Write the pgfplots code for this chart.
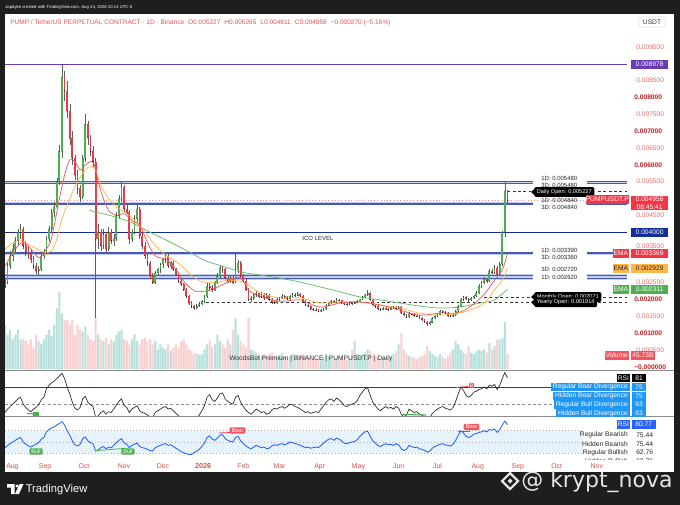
\documentclass[border=0pt]{standalone}
\usepackage{pgfplots}
\pgfplotsset{compat=1.18}
\usepackage{pgfplotstable}
\usepackage{fontspec}
\setmainfont{Liberation Sans}
\newfontfamily\wmfont{DejaVu Sans}

\definecolor{bgdark}{RGB}{30,30,30}
\definecolor{cgreen}{RGB}{76,175,80}
\definecolor{cred}{RGB}{242,54,69}
\definecolor{wick}{RGB}{95,95,95}
\definecolor{vgreen}{RGB}{183,225,221}
\definecolor{vred}{RGB}{250,208,208}
\definecolor{zone}{RGB}{70,90,180}
\definecolor{zonefill}{RGB}{196,206,238}
\definecolor{ico}{RGB}{20,45,150}
\definecolor{purp}{RGB}{103,58,183}
\definecolor{emared}{RGB}{242,90,90}
\definecolor{emaor}{RGB}{255,183,77}
\definecolor{emagr}{RGB}{102,187,106}
\definecolor{lblred}{RGB}{232,110,110}
\definecolor{lbldark}{RGB}{198,30,30}
\definecolor{rsiblue}{RGB}{41,98,255}
\definecolor{divblue}{RGB}{33,150,243}
\definecolor{bandblue}{RGB}{230,243,253}
\definecolor{monthred}{RGB}{214,80,80}
\definecolor{titlered}{RGB}{236,80,80}

\newcommand{\fs}{\fontsize{5}{6}\selectfont}
\newcommand{\fsz}{\fontsize{4.5}{5.4}\selectfont}

\pgfplotstableread{
d o h l c v r
-2 26 27.5 23 24 210 38
0 24 26 23.5 25 135 40
2 25 31 24.5 30 105 44
4 30 34.5 29 33 120 47
6 33 36.5 31.5 35 90 50
8 35 38.5 33.5 37.5 105 53
10 37.5 41 36 40 120 56
12 40 42.5 38 41 90 58
14 41 41.5 35 36 90 50
16 36 37.5 33 34 85 46
18 34 36 32 33.5 75 43
20 33.5 35 31 32 90 41
22 32 33 29 30 65 44
24 30 31 27.5 28.5 105 46
26 28.5 30 27 29 85 49
28 29 34 28.5 33 75 55
30 33 35 32 34 90 58
32 34 39 33.5 38 105 68
34 38 42 37 41 120 72
36 41 47 40 46 100 75
38 46 49 44.5 47.5 135 77
40 47.5 56 47 55 185 80
42 55 66 54 64 235 83
44 64 89.78 62 86 170 86
46 86 88 79 82 150 80
48 82 85 74 76 150 70
50 76 78 66 68 135 62
52 68 70 60 62 150 52
54 62 63 55.5 57 105 45
56 57 58.5 51.5 53 135 43
58 53 54 49 50.5 120 46
60 50.5 63 50 62 115 56
62 62 75 61 72 130 59
64 72 73 66 68 105 52
66 68 69 62.5 64 90 49
68 64 65.5 59.5 61 85 47
70 61 62 14.6 38 160 34
72 38 42.5 35 40 105 36
74 40 41 34.5 36 90 40
76 36 41 35 39.5 85 42
78 39.5 40 33.5 35 95 38
80 35 41.5 34.5 40 75 41
82 40 41 36.5 37.5 90 40
84 37.5 39.5 36 38 85 44
86 38 46 37.5 45 105 49
88 45 51 44 50 115 53
90 50 55 49 53.5 120 56
92 53.5 54 46 47 90 48
94 47 48.5 45 46 85 46
96 46 46.5 36.5 38 75 40
98 38 41 37 40 90 44
100 40 45 39.5 44 105 46
102 44 48.7 43 47 85 48
104 47 47.5 38 39 75 42
106 39 40 35 36 90 40
108 36 37 32 33 95 39
110 33 34 30 31 85 37
112 31 31.5 26 27 90 35
114 27 28 24.5 25 75 34
116 25 28.5 24.5 28 85 40
118 28 29.5 27 29 60 42
120 29 31 28 30.5 75 44
122 30.5 32.5 29.5 32 65 46
124 32 34 31 33 60 47
126 33 33.5 29.5 30 75 44
128 30 31.5 29 31 55 45
130 31 31.5 28.5 29 65 42
132 29 29.5 27 27.5 75 39
134 27.5 28 25 25.5 65 36
136 25.5 26 24 24.5 85 33
138 24.5 25 22.5 23 90 31
140 23 23.5 20.5 21 75 29
142 21 21.5 18.5 19 60 28
144 19 19.5 17.5 18 55 28
146 18 18.5 17 17.5 45 31
148 17.5 18.8 17.2 18.2 48 34
150 18.2 19.3 17.8 18.8 42 37
152 18.8 20 18.3 19.5 45 42
154 19.5 21.5 19 21 60 48
156 21 24.8 20.5 24 75 58
158 24 25 22.5 23.5 90 61
160 23.5 24.2 22.3 23 66 55
162 23 25.5 22.5 25 75 53
164 25 27.8 24.5 27 105 57
166 27 30.3 26.5 29.5 85 62
168 29.5 30 28 29 75 63
170 29 29.5 26 26.5 65 56
172 26.5 27 25 25.5 90 53
174 25.5 27.2 25 26.5 75 51
176 26.5 27 24.5 25 120 50
178 25 33.5 24.8 29 155 58
180 29 31.8 28 31 105 60
182 31 31.5 26.5 27 85 52
184 27 27.5 25 25.5 75 47
186 25.5 26 22.5 23 66 43
188 23 23.5 19.5 20 155 40
190 20 21 19.3 20.5 60 38
192 20.5 22 20 21.5 55 41
194 21.5 22.6 20.8 22 50 44
196 22 22.4 20.5 21 45 42
198 21 22.2 20.6 21.5 40 40
200 21.5 21.9 20 20.5 42 41
202 20.5 22 20.2 21.5 38 38
204 21.5 21.8 19.7 20 45 39
206 20 20.4 18.8 19.2 50 43
208 19.2 19.6 18.6 19 40 45
210 19 20.4 18.8 20 36 44
212 20 20.9 19.7 20.5 42 46
214 20.5 21.6 20.2 21.2 48 47
216 21.2 21.5 20.4 20.8 36 45
218 20.8 21.1 20 20.3 33 47
220 20.3 21.4 20 21 40 50
222 21 22 20.7 21.5 45 49
224 21.5 21.9 20.9 21.2 38 47
226 21.2 22.3 21 21.8 42 46
228 21.8 22 20.7 21 36 44
230 21 21.3 19.2 19.5 45 42
232 19.5 19.8 18.2 18.5 40 40
234 18.5 18.9 17.7 18 36 41
236 18 18.3 16.9 17.2 33 39
238 17.2 17.6 16.7 17 30 40
240 17 17.5 16.5 16.8 28 41
242 16.8 17.1 16.2 16.5 33 40
244 16.5 17.1 16.3 16.8 30 44
246 16.8 17.6 16.6 17.2 36 48
248 17.2 18.6 17 18.2 45 52
250 18.2 19.4 18 19 40 55
252 19 19.9 18.7 19.5 36 56
254 19.5 19.8 18.9 19.2 30 53
256 19.2 20.4 19 20 33 57
258 20 20.3 19.5 19.8 28 55
260 19.8 20 18.7 19 36 52
262 19 19.3 18.3 18.6 30 48
264 18.6 19 18.2 18.5 27 47
266 18.5 19.3 18.3 19 33 49
268 19 19.3 18.5 18.8 60 50
270 18.8 19.5 18.6 19.2 85 51
272 19.2 19.8 19 19.5 45 54
274 19.5 20.3 19.3 20 40 60
276 20 21.1 19.8 20.8 45 64
278 20.8 21.8 20.5 21.5 50 68
280 21.5 22.8 21.2 22 60 69
282 22 22.3 19.6 20 55 60
284 20 20.3 18.2 18.5 45 52
286 18.5 18.8 17.6 18 40 48
288 18 18.3 16.9 17.2 36 44
290 17.2 17.5 16.7 17 30 42
292 17 17.9 16.8 17.5 33 45
294 17.5 17.8 16.9 17.2 36 47
296 17.2 17.5 16.7 17 30 45
298 17 17.9 16.8 17.5 40 46
300 17.5 18.2 17.2 17.8 45 44
302 17.8 18 17 17.3 55 47
304 17.3 18.2 17.1 17.8 75 45
306 17.8 18 15.6 16 110 38
308 16 16.4 15.2 15.5 60 35
310 15.5 15.8 14.5 14.8 45 37
312 14.8 16.2 14.6 15.8 40 44
314 15.8 16.1 15.3 15.6 36 42
316 15.6 15.9 14.9 15.2 33 40
318 15.2 15.5 14.7 15 30 41
320 15 15.3 14.3 14.6 36 38
322 14.6 14.9 13.7 14 40 37
324 14 14.3 13.2 13.5 45 35
326 13.5 13.8 12.3 12.8 70 32
328 12.8 13.6 12.5 13.2 55 34
330 13.2 14.8 13 14.5 45 39
332 14.5 15.3 14.2 15 40 42
334 15 15.8 14.7 15.5 36 44
336 15.5 16.9 15.3 16.5 45 46
338 16.5 16.8 15.9 16.2 36 47
340 16.2 16.5 15.7 16 30 45
342 16 16.3 14.9 15.2 40 44
344 15.2 15.5 14.7 15 50 43
346 15 15.7 14.8 15.3 60 46
348 15.3 16.9 15.1 16.5 85 53
350 16.5 18.4 16.2 18 75 62
352 18 20.5 17.7 20 60 70
354 20 21.2 19.6 20.8 50 66
356 20.8 21.1 19.8 20.2 45 60
358 20.2 20.5 19.4 19.8 70 58
360 19.8 20.9 19.5 20.5 50 60
362 20.5 21.4 20.2 21 45 64
364 21 22.5 20.7 22 55 65
366 22 24.5 21.7 24 60 67
368 24 25.5 23.5 25 55 68
370 25 26.6 24.6 26 60 70
372 26 26.5 24.9 25.5 50 68
374 25.5 29 25.2 28.5 80 72
376 28.5 29.2 27.5 28 60 71
378 28 30.2 27.7 29.5 70 73
380 29.5 29.9 27 27.5 90 67
382 27.5 31.2 27.2 30.5 90 72
384 30.5 40.5 30 40 95 80
386 40 54.8 38.5 52.3 143 87
388 52.27 52.65 48.11 49.58 45.73 80.77
}\candles

\pgfplotstableread{
d e
0 30
8 35
14 37
20 35
26 32.5
30 34
35 37
38 42
42 50
46 57
50 61.5
54 61
58 58.5
62 60
66 61
69 60
72 55
76 50
80 46.5
86 45
92 45.5
98 43.5
104 42
110 37
116 33
124 32
131 29.5
139 25
147 22.5
154 22.5
160 23
171 25
181 26.7
189 22.5
197 21
212 19.5
228 19.9
243 17.8
259 19
274 19.3
290 18.4
305 16.9
320 15.4
336 16
348 16
355 16.9
363 19
371 22
378 25.8
384 28.8
388 33.69
}\emaR

\pgfplotstableread{
d e
0 35
10 37.5
20 36
30 34
36 34.5
40 38
44 44
50 50
56 55
62 58.5
66 59.5
70 58.5
74 54
80 50
88 47
96 45
104 42
112 38
120 34.5
127 32.5
135 30.5
143 27.5
151 25.5
158 25
166 25.3
174 25.8
185 25
197 22
212 20.5
228 20.5
243 19
259 19.3
274 19.3
290 18.4
305 17.5
320 16
336 15.4
351 16
363 17.5
371 19.3
378 22.9
384 25.8
388 29.29
}\emaO

\pgfplotstableread{
d e
65 46.6
73 45.7
81 45
97 43
112 40
128 37
143 34
155 31.5
170 29.7
182 28.2
197 27.3
212 26.4
228 25.2
243 23.8
259 22.3
274 20.8
290 19.9
305 19
320 18.1
336 17.5
351 17.8
367 19
378 19.9
388 23.11
}\emaG

\pgfplotsset{base/.style={width=466.5pt, scale only axis, xmin=0, xmax=480.3, hide axis, clip=true, anchor=south west}}

\newcommand{\zseg}[6]{% x1 x2 fill-low fill-high line1 line2
  \fill[zonefill] (axis cs:#1,#3) rectangle (axis cs:#2,#4);
  \draw[zone, line width=0.55pt] (axis cs:#1,#5) -- (axis cs:#2,#5);
  \draw[zone, line width=0.55pt] (axis cs:#1,#6) -- (axis cs:#2,#6);}

\begin{document}
\begin{tikzpicture}
\begin{scope}[x=0.75pt,y=-0.75pt]
\useasboundingbox (0,0) rectangle (680,505);
\fill[bgdark] (0,0) rectangle (680,505);
\fill[white] (5,14.5) rectangle (674,472);
\end{scope}

% ---------- volume ----------
\begin{axis}[base, at={(3.75pt,-276.75pt)}, height=75pt, ymin=0, ymax=305]
\addplot[ybar, bar width=1.6, bar shift=0pt, fill=vgreen, draw=none]
  table[x=d, y expr={\thisrow{c}<\thisrow{o} ? nan : \thisrow{v}}]{\candles};
\addplot[ybar, bar width=1.6, bar shift=0pt, fill=vred, draw=none]
  table[x=d, y expr={\thisrow{c}<\thisrow{o} ? \thisrow{v} : nan}]{\candles};
\end{axis}

% ---------- price ----------
\begin{axis}[base, at={(3.75pt,-277.5pt)}, height=266.25pt, ymin=-0.89, ymax=104.5]
% zones
\zseg{0}{407.7}{54.35}{55.25}{54.55}{55.05}
\zseg{449.4}{480.3}{54.35}{55.25}{54.55}{55.05}
\zseg{0}{407.7}{47.95}{48.85}{48.15}{48.65}
\zseg{449.4}{480.3}{47.95}{48.85}{48.15}{48.65}
\zseg{0}{407.7}{33.3}{34.2}{33.6}{33.9}
\zseg{449.4}{480.3}{33.3}{34.2}{33.6}{33.9}
\zseg{0}{407.7}{25.9}{27.5}{26.2}{27.2}
\zseg{449.4}{480.3}{25.9}{27.5}{26.2}{27.2}
\draw[purp, line width=0.8pt] (axis cs:0,89.78) -- (axis cs:480.3,89.78);
\draw[ico, line width=0.8pt] (axis cs:0,40) -- (axis cs:480.3,40);
\draw[cred!60, dotted, line width=0.45pt] (axis cs:0,49.58) -- (axis cs:480.3,49.58);
% opens
\draw[black!80, dash pattern=on 2.2pt off 1.8pt, line width=0.45pt] (axis cs:388,52.27) -- (axis cs:406,52.27) (axis cs:458,52.27) -- (axis cs:480.3,52.27);
\draw[black!80, dash pattern=on 2.2pt off 1.8pt, line width=0.45pt] (axis cs:370,20.71) -- (axis cs:406,20.71) (axis cs:458,20.71) -- (axis cs:480.3,20.71);
\draw[black!80, dash pattern=on 2.2pt off 1.8pt, line width=0.45pt] (axis cs:151,19.14) -- (axis cs:406,19.14) (axis cs:458,19.14) -- (axis cs:480.3,19.14);
% candles: wicks
\addplot[only marks, mark=*, mark size=0.01pt, mark options={draw=none,fill=none},
  error bars/.cd, y dir=both, y explicit, error mark=none,
  error bar style={draw=wick, line width=0.35pt}]
  table[x=d, y=c, y error plus expr={\thisrow{h}-\thisrow{c}}, y error minus expr={\thisrow{c}-\thisrow{l}}]{\candles};
% bodies
\addplot[only marks, mark=*, mark size=0.01pt, mark options={draw=none,fill=none},
  error bars/.cd, y dir=plus, y explicit, error mark=none,
  error bar style={draw=cgreen, line width=1.35pt}]
  table[x=d, y expr={\thisrow{c}<\thisrow{o} ? nan : \thisrow{o}}, y error plus expr={\thisrow{c}-\thisrow{o}}]{\candles};
\addplot[only marks, mark=*, mark size=0.01pt, mark options={draw=none,fill=none},
  error bars/.cd, y dir=plus, y explicit, error mark=none,
  error bar style={draw=cred, line width=1.35pt}]
  table[x=d, y expr={\thisrow{c}<\thisrow{o} ? \thisrow{c} : nan}, y error plus expr={\thisrow{o}-\thisrow{c}}]{\candles};
% EMAs
\addplot[emagr, line width=0.55pt, smooth, mark=none] table[x=d,y=e]{\emaG};
\addplot[emaor, line width=0.55pt, smooth, mark=none] table[x=d,y=e]{\emaO};
\addplot[emared, line width=0.55pt, smooth, mark=none] table[x=d,y=e]{\emaR};
\end{axis}

% ---------- RSI 1 ----------
\begin{axis}[base, at={(3.75pt,-312pt)}, height=33.75pt, ymin=35.9, ymax=88.8]
\draw[black!75, line width=0.5pt] (axis cs:0,70) -- (axis cs:423,70);
\draw[black!45, dash pattern=on 2.2pt off 1.8pt, line width=0.4pt] (axis cs:0,50) -- (axis cs:423,50);
\addplot[black!85, line width=0.5pt, mark=none] table[x=d,y=r]{\candles};
\end{axis}

% ---------- RSI 2 ----------
\begin{axis}[base, at={(3.75pt,-344.25pt)}, height=32.25pt, ymin=19.9, ymax=96]
\fill[bandblue] (axis cs:0,30) rectangle (axis cs:446,70);
\draw[black!30, dotted, line width=0.4pt] (axis cs:0,70) -- (axis cs:446,70);
\draw[black!30, dotted, line width=0.4pt] (axis cs:0,50) -- (axis cs:446,50);
\draw[black!30, dotted, line width=0.4pt] (axis cs:0,30) -- (axis cs:446,30);
\addplot[rsiblue, line width=0.65pt, mark=none] table[x=d,y=r]{\candles};
\end{axis}

% ---------- overlays ----------
\begin{scope}[x=0.75pt,y=-0.75pt]
% pane separators
\draw[black!45, line width=0.9pt] (5,370.3) -- (674,370.3);
\draw[black!45, line width=0.9pt] (5,416.5) -- (674,416.5);

% header
\node[anchor=west, text=white, font=\fontsize{3.2}{4}\selectfont, inner sep=0pt] at (5,7.5) {zopdyke created with TradingView.com, Aug 24, 2026 10:14 UTC-5};
\node[anchor=west, text=titlered, font=\fontsize{4.9}{6}\selectfont, inner sep=0pt] at (10,22.5)
 {PUMP / TetherUS PERPETUAL CONTRACT · 1D · Binance\hspace{3pt}O0.005227\hspace{3pt}H0.005265\hspace{3pt}L0.004811\hspace{3pt}C0.004958\hspace{3pt}−0.000270 (−5.16\%)};
\node[draw=black!15, fill=white, rounded corners=1pt, text=black!80, font=\fs, inner xsep=3pt, inner ysep=2pt] at (652,22) {USDT};

% price scale labels
\foreach \yy/\tt in {47/0.009500, 80.7/0.008500, 114.4/0.007500, 148.1/0.006500, 181.7/0.005500, 215.4/0.004500, 246.6/0.003500, 282.3/0.002500, 316.5/0.001500, 350.2/0.000500}
  \node[anchor=west, text=lblred, font=\fs, inner sep=0pt] at (636,\yy) {\tt};
\foreach \yy/\tt in {97.5/0.008000, 131.2/0.007000, 164.9/0.006000, 299.6/0.002000, 333.3/0.001000, 367/−0.000000}
  \node[anchor=west, text=lbldark, font=\fs\bfseries, inner sep=0pt] at (634,\yy) {\tt};

% zone labels
\foreach \yy/\tt in {178/1D: 0.005480, 185.7/3D: 0.005480, 200/1D: 0.004840, 207.7/3D: 0.004840, 250/1D: 0.003390, 257.7/3D: 0.003360, 269.3/3D: 0.002720, 277.3/1D: 0.002620}
  \node[anchor=west, text=black!85, font=\fsz, inner sep=0pt] at (541,\yy) {\tt};
\node[text=black!85, font=\fsz, inner sep=0pt] at (318,238) {ICO LEVEL};

% black open labels
\foreach \yy/\tt in {192/Daily Open: 0.005227, 297/Monthly Open: 0.002071, 302.3/Yearly Open: 0.001914}{
  \fill[black] (531,\yy) -- (535,\yy-3.6) -- (535,\yy+3.6) -- cycle;
  \node[fill=black, text=white, rounded corners=1pt, font=\fontsize{4.2}{5}\selectfont, inner xsep=2pt, inner ysep=0pt, minimum height=7.2pt, anchor=west] at (534,\yy) {\tt};}

% value boxes
\node[fill=purp, text=white, font=\fs, inner sep=0pt, minimum height=6.75pt, minimum width=27.5pt, anchor=west] at (631,64.6) {0.008978};
\node[fill=cred, text=white, font=\fs, inner sep=0pt, minimum height=6.6pt, minimum width=31pt, anchor=east] at (629,199.5) {PUMPUSDT.P};
\node[fill=cred, text=white, font=\fs, inner sep=1pt, minimum width=27.5pt, anchor=west, align=center] at (631,203) {0.004958\\[-0.3pt]08:45:41};
\node[fill=ico, text=white, font=\fs, inner sep=0pt, minimum height=6.75pt, minimum width=27.5pt, anchor=west] at (631,232.3) {0.004000};
\node[fill=cred, text=white, font=\fs, inner sep=0pt, minimum height=6.9pt, minimum width=12.5pt, anchor=east] at (629.5,253.7) {EMA};
\node[fill=cred, text=white, font=\fs, inner sep=0pt, minimum height=6.9pt, minimum width=27.5pt, anchor=west] at (631,253.7) {0.003369};
\node[fill=emaor, text=black!85, font=\fs, inner sep=0pt, minimum height=6.9pt, minimum width=12.5pt, anchor=east] at (629.5,268.5) {EMA};
\node[fill=emaor, text=black!85, font=\fs, inner sep=0pt, minimum height=6.9pt, minimum width=27.5pt, anchor=west] at (631,268.5) {0.002929};
\node[fill=cgreen, text=white, font=\fs, inner sep=0pt, minimum height=6.9pt, minimum width=12.5pt, anchor=east] at (629.5,289.2) {EMA};
\node[fill=cgreen, text=white, font=\fs, inner sep=0pt, minimum height=6.9pt, minimum width=27.5pt, anchor=west] at (631,289.2) {0.002311};
\node[fill=cred!85, text=white, font=\fs, inner sep=0pt, minimum height=6.6pt, minimum width=18pt, anchor=east] at (629,355.5) {Volume};
\node[fill=cred!85, text=white, font=\fs, inner sep=0pt, minimum height=6.6pt, minimum width=17.5pt, anchor=west] at (631,355.5) {45.73B};

\node[anchor=west, text=black!80, font=\fontsize{5}{6}\selectfont, inner sep=0pt] at (229,359) {WoodsBot Premium | BINANCE | PUMPUSDT.P | Daily};

% RSI 1 labels / marks
\begin{scope}
\clip (5,371) rectangle (674,416);
\node[fill=black, text=white, font=\fs, inner sep=0pt, minimum height=6.3pt, minimum width=9.5pt, anchor=east] at (630,378) {RSI};
\node[fill=black, text=white, font=\fs, inner sep=0pt, minimum height=6.3pt, minimum width=11pt, anchor=west] at (631.5,378) {81};
\foreach \yy/\tt/\vv in {387/Regular Bear Divergence/75, 395.8/Hidden Bear Divergence/75, 404.6/Regular Bull Divergence/63, 413.4/Hidden Bull Divergence/63}{
  \node[fill=divblue, text=white, font=\fs, inner xsep=1.5pt, inner ysep=0pt, minimum height=6.4pt, anchor=east] at (630,\yy) {\tt};
  \node[fill=divblue, text=white, font=\fs, inner sep=0pt, minimum height=6.4pt, minimum width=11pt, anchor=west] at (631.5,\yy) {\vv};}
\draw[cgreen, line width=0.8pt] (27,413.5) -- (38,414);
\fill[cgreen] (33,412.2) rectangle (38.5,416);
\draw[cgreen, line width=0.8pt] (403,414.5) -- (426,415);
\draw[cred, line width=0.6pt] (456,387.5) -- (468,386.5);
\node[fill=cred!85, text=white, font=\fontsize{3.8}{4.5}\selectfont, inner sep=0.6pt, rounded corners=0.5pt] at (471.5,385.5) {B};
\end{scope}

% RSI 2 labels / marks
\begin{scope}
\clip (5,417) rectangle (674,459);
\node[fill=rsiblue, text=white, font=\fs, inner sep=0pt, minimum height=6.3pt, minimum width=9.5pt, anchor=east] at (630,424.3) {RSI};
\node[fill=rsiblue, text=white, font=\fs, inner sep=0pt, minimum height=6.3pt, minimum width=18pt, anchor=west] at (631.5,424.3) {80.77};
\foreach \yy/\tt/\vv in {435.2/Regular Bearish/75.44, 443.8/Hidden Bearish/75.44, 452.5/Regular Bullish/62.76, 461/Hidden Bullish/62.76}{
  \node[anchor=east, text=black!85, font=\fs, inner sep=0pt] at (628,\yy) {\tt};
  \node[anchor=west, text=black!85, font=\fs, inner sep=0pt] at (636,\yy) {\vv};}
\draw[cgreen, line width=0.6pt] (95,450.7) -- (126,448.3);
\node[fill=cgreen, text=white, font=\fontsize{4.2}{5}\selectfont, inner xsep=1.5pt, inner ysep=0.8pt, rounded corners=0.8pt] at (36,451.5) {Bull};
\node[fill=cgreen, text=white, font=\fontsize{4.2}{5}\selectfont, inner xsep=1.5pt, inner ysep=0.8pt, rounded corners=0.8pt] at (128,451.5) {Bull};
\draw[cred, line width=0.6pt] (219,433) -- (231,432.5);
\draw[cred, line width=0.6pt] (458,431.5) -- (470,431.5);
\node[fill=cred!85, text=white, font=\fontsize{4.2}{5}\selectfont, inner xsep=1.5pt, inner ysep=0.8pt, rounded corners=0.8pt] at (237.5,430.5) {Bear};
\node[fill=cred!85, text=white, font=\fontsize{4.2}{5}\selectfont, inner xsep=1.5pt, inner ysep=0.8pt, rounded corners=0.8pt] at (471.5,427) {Bear};
\end{scope}

% month labels
\foreach \xx/\tt in {45.1/Sep, 84/Oct, 124.1/Nov, 163/Dec, 243.3/Feb, 279.5/Mar, 319.7/Apr, 358.5/May, 398.7/Jun, 437.5/Jul, 477.7/Aug, 517.8/Sep, 556.7/Oct, 596.8/Nov}
  \node[text=monthred, font=\fontsize{5.2}{6}\selectfont, inner sep=0pt] at (\xx,466.5) {\tt};
\node[anchor=west, text=monthred, font=\fontsize{5.2}{6}\selectfont, inner sep=0pt] at (6,466.5) {Aug};
\node[text=monthred, font=\fontsize{5.4}{6}\selectfont\bfseries, inner sep=0pt] at (203.1,466.5) {2026};

% footer: TradingView logo
\fill[white] (7,484) -- (14.5,484) -- (14.5,494) -- (11,494) -- (11,487.5) -- (7,487.5) -- cycle;
\fill[white] (17,486) circle (1.7);
\fill[white] (19.5,484) -- (23.5,484) -- (19,494) -- (15,494) -- cycle;
\node[anchor=west, text=white, font=\fontsize{8.4}{10}\selectfont, inner sep=0pt] at (25.5,489.5) {TradingView};

% watermark
\begin{scope}[shift={(510,481)}]
\draw[white!90!black, line width=1.6pt] (0,-8) -- (8,0) -- (0,8) -- (-8,0) -- cycle;
\fill[bgdark] (0,-4) -- (4,0) -- (0,4) -- (-4,0) -- cycle;
\fill[white!90!black] (0,-2.5) -- (2.5,0) -- (0,2.5) -- (-2.5,0) -- cycle;
\end{scope}
\node[anchor=base west, text=white!90!black, font=\wmfont\fontsize{16.5}{18}\selectfont, inner sep=0pt] at (521,487) {@ krypt\_nova};
\end{scope}
\end{tikzpicture}
\end{document}
